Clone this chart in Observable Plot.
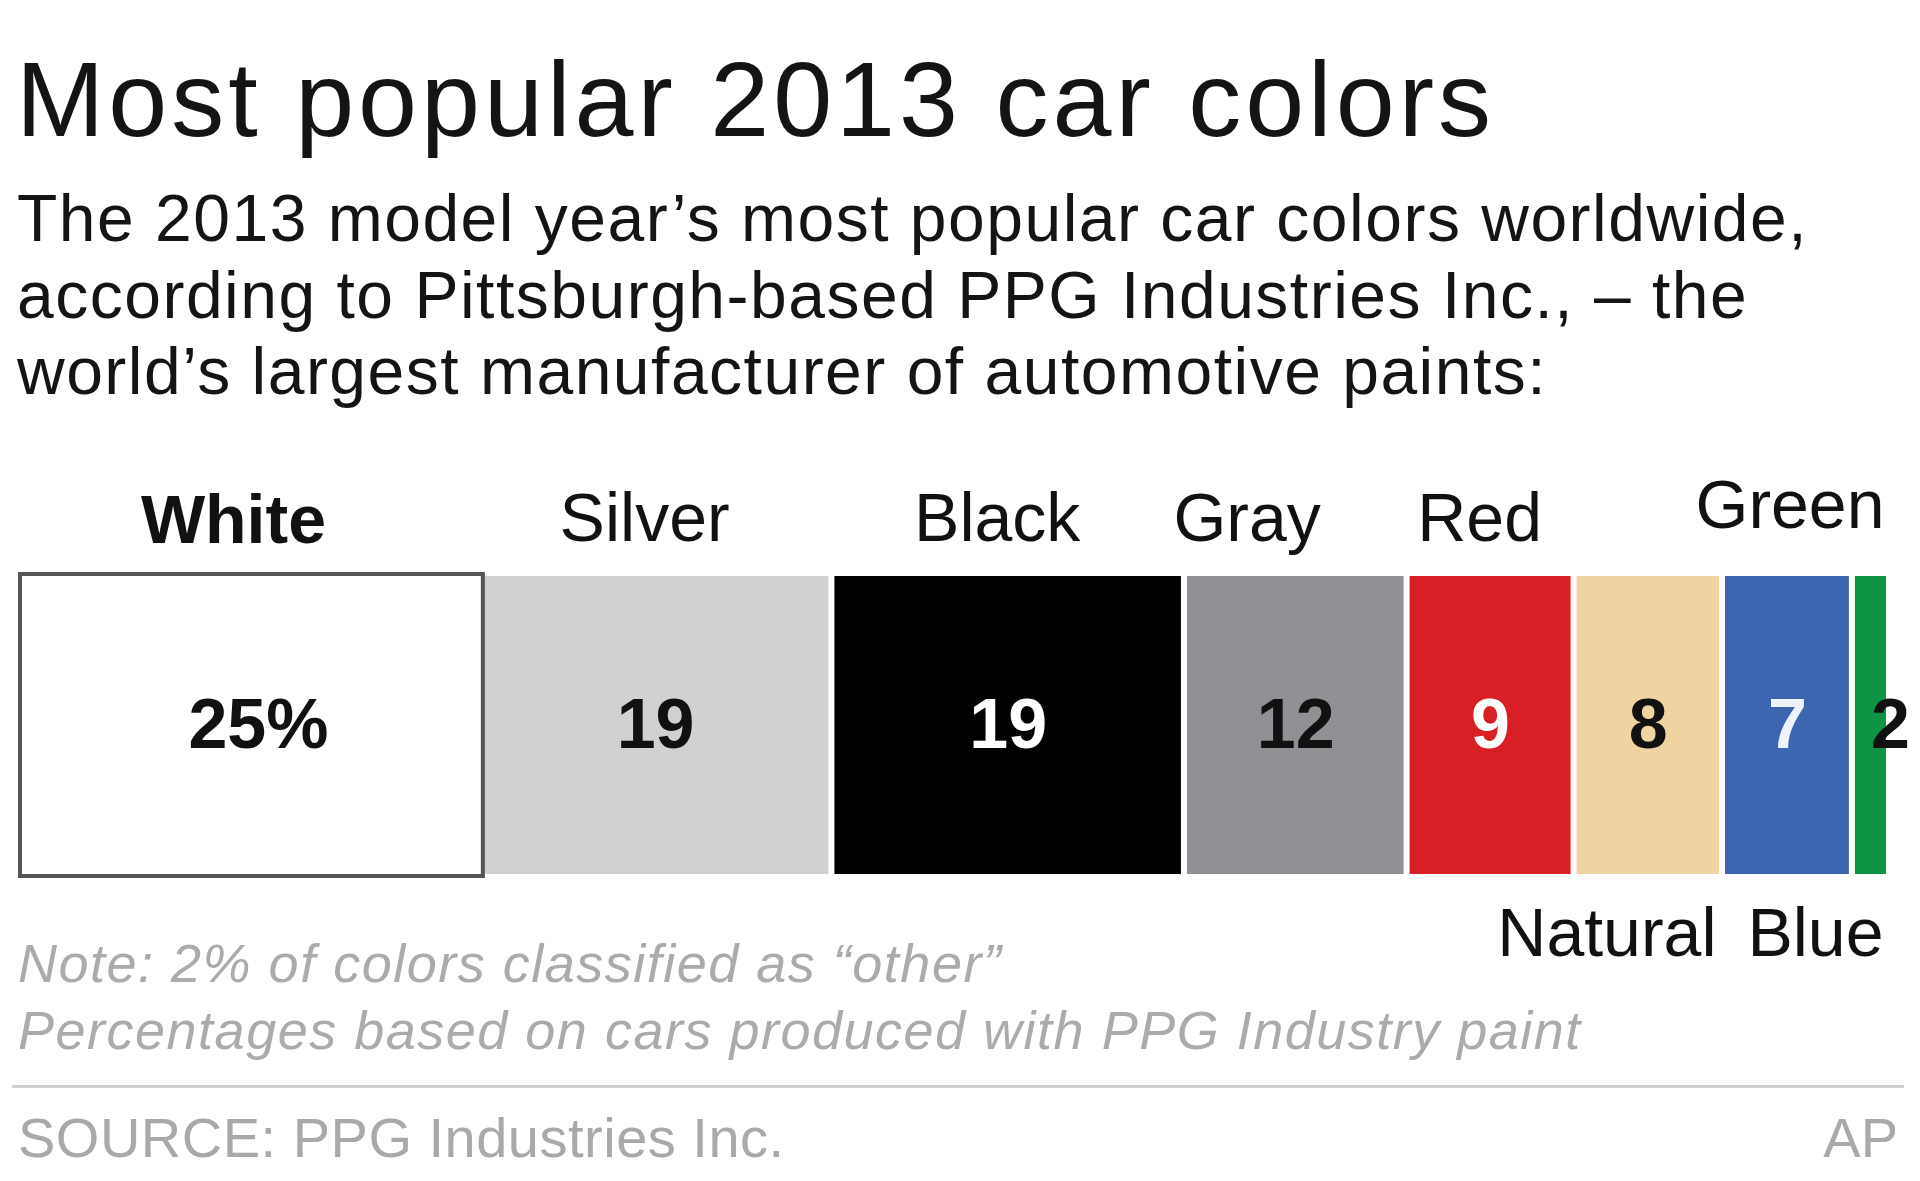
<!DOCTYPE html>
<html>
<head>
<meta charset="utf-8">
<script src="https://cdn.jsdelivr.net/npm/d3@7"></script>
<script src="https://cdn.jsdelivr.net/npm/@observablehq/plot@0.6"></script>
<style>
  html, body { margin: 0; padding: 0; background: #fff; }
  body { width: 1920px; height: 1181px; position: relative; overflow: hidden;
         font-family: "Liberation Sans", Arial, Helvetica, sans-serif; }
  .abs { position: absolute; white-space: nowrap; }
  #title { left: 16px; top: 46px; font-size: 106px; line-height: 106px; letter-spacing: 4px; color: #141414; }
  #subtitle { left: 17px; top: 180px; font-size: 66px; line-height: 76.5px; letter-spacing: 1.5px; color: #141414; }
  #note { left: 18px; top: 930px; font-size: 54px; line-height: 67px; letter-spacing: 1.5px; color: #ababab; font-style: italic; }
  #rule { left: 12px; top: 1085px; width: 1892px; height: 3px; background: #cfcfcf; }
  #source { left: 18px; top: 1110px; font-size: 56px; line-height: 56px; letter-spacing: 0.5px; color: #a9a9a9; }
  #ap { right: 22px; top: 1110px; font-size: 56px; line-height: 56px; color: #a9a9a9; }
  #chart { position: absolute; left: 0; top: 460px; }
</style>
</head>
<body>
<div id="title" class="abs">Most popular 2013 car colors</div>
<div id="subtitle" class="abs">The 2013 model year’s most popular car colors worldwide,<br>according to Pittsburgh-based PPG Industries Inc., – the<br>world’s largest manufacturer of automotive paints:</div>
<div id="chart"></div>
<div id="note" class="abs">Note: 2% of colors classified as “other”<br>Percentages based on cars produced with PPG Industry paint</div>
<div id="rule" class="abs"></div>
<div id="source" class="abs">SOURCE: PPG Industries Inc.</div>
<div id="ap" class="abs">AP</div>
<script>
// ---- Data ----
const categories = ["White", "Silver", "Black", "Gray", "Red", "Natural", "Blue", "Green"];
const shares = [25, 19, 19, 12, 9, 8, 7, 2];
const valueLabels = ["25%", "19", "19", "12", "9", "8", "7", "2"];

// ---- Styling ----
const palette = ["#ffffff", "#cfd1d2", "#000000", "#8f9194", "#d81f26", "#efd3a0", "#3d66b0", "#0f9446"];
const valueInk = {White: "#111", Silver: "#111", Black: "#fff", Gray: "#111", Red: "#fff", Natural: "#111", Blue: "#eef2fa", Green: "#111"};
const below = new Set(["Natural", "Blue"]);

const total = d3.sum(shares);
const ends = d3.cumsum(shares);
const rows = categories.map((c, i) => ({
  category: c, share: shares[i], label: valueLabels[i],
  start: ends[i] - shares[i], end: ends[i], mid: ends[i] - shares[i] / 2
}));

// label anchoring per category (relative to the bar extent)
function labelX(d) {
  if (d.category === "Gray") return d.start;
  if (d.category === "Natural") return d.end;
  if (d.category === "Blue" || d.category === "Green") return total;
  return d.mid;
}
function labelAnchor(d) {
  if (d.category === "Gray") return "start";
  if (d.category === "Natural" || d.category === "Blue" || d.category === "Green") return "end";
  return "middle";
}

const catFont = 68, valFont = 70;
const topRows = rows.filter(d => !below.has(d.category));
const botRows = rows.filter(d => below.has(d.category));

const textMarks = [];
for (const anchor of ["start", "middle", "end"]) {
  const t = topRows.filter(d => labelAnchor(d) === anchor && d.category !== "White" && d.category !== "Green");
  if (t.length) textMarks.push(Plot.text(t, {x: labelX, text: "category", frameAnchor: "top", lineAnchor: "bottom", dy: -36, dx: -11, textAnchor: anchor, fontSize: catFont, fill: "#111"}));
  const b = botRows.filter(d => labelAnchor(d) === anchor);
  if (b.length) textMarks.push(Plot.text(b, {x: labelX, text: "category", frameAnchor: "bottom", lineAnchor: "bottom", dy: 81, dx: -6, textAnchor: anchor, fontSize: catFont, fill: "#111"}));
}
textMarks.push(Plot.text(rows.filter(d => d.category === "Green"), {x: labelX, text: "category", frameAnchor: "top", lineAnchor: "bottom", dy: -49, dx: -5, textAnchor: "end", fontSize: catFont, fill: "#111"}));
textMarks.push(Plot.text(rows.filter(d => d.category === "White"), {x: labelX, text: "category", frameAnchor: "top", lineAnchor: "bottom", dy: -34, dx: -14, fontSize: catFont, fontWeight: "bold", fill: "#111"}));

const chart = Plot.plot({
  width: 1920,
  height: 520,
  marginLeft: 15,
  marginRight: 31,
  marginTop: 116,
  marginBottom: 106,
  style: {fontFamily: "'Liberation Sans', Arial, Helvetica, sans-serif", background: "transparent", overflow: "visible"},
  x: {domain: [0, total], axis: null},
  color: {domain: categories, range: palette},
  marks: [
    Plot.rectX(rows.filter(d => d.category !== "White"), {x1: "start", x2: "end", fill: "category", insetLeft: 3, insetRight: 3}),
    Plot.rectX(rows.filter(d => d.category === "White"), {x1: "start", x2: "end", fill: "category", stroke: "#555", strokeWidth: 4, insetLeft: 5, insetRight: -4, insetTop: -2, insetBottom: -2}),
    ...textMarks,
    Plot.text(rows.filter(d => d.category === "White"), {x: "mid", text: "label", frameAnchor: "middle", lineAnchor: "middle", dx: 11, fontSize: valFont, fontWeight: "bold", fill: d => valueInk[d.category]}),
    Plot.text(rows.filter(d => d.category !== "Green" && d.category !== "White"), {x: "mid", text: "label", frameAnchor: "middle", lineAnchor: "middle", fontSize: valFont, fontWeight: "bold", fill: d => valueInk[d.category]}),
    Plot.text(rows.filter(d => d.category === "Green"), {x: "mid", text: "label", frameAnchor: "middle", lineAnchor: "middle", textAnchor: "start", fontSize: valFont, fontWeight: "bold", fill: d => valueInk[d.category]})
  ]
});
document.getElementById("chart").appendChild(chart);
</script>
</body>
</html>
